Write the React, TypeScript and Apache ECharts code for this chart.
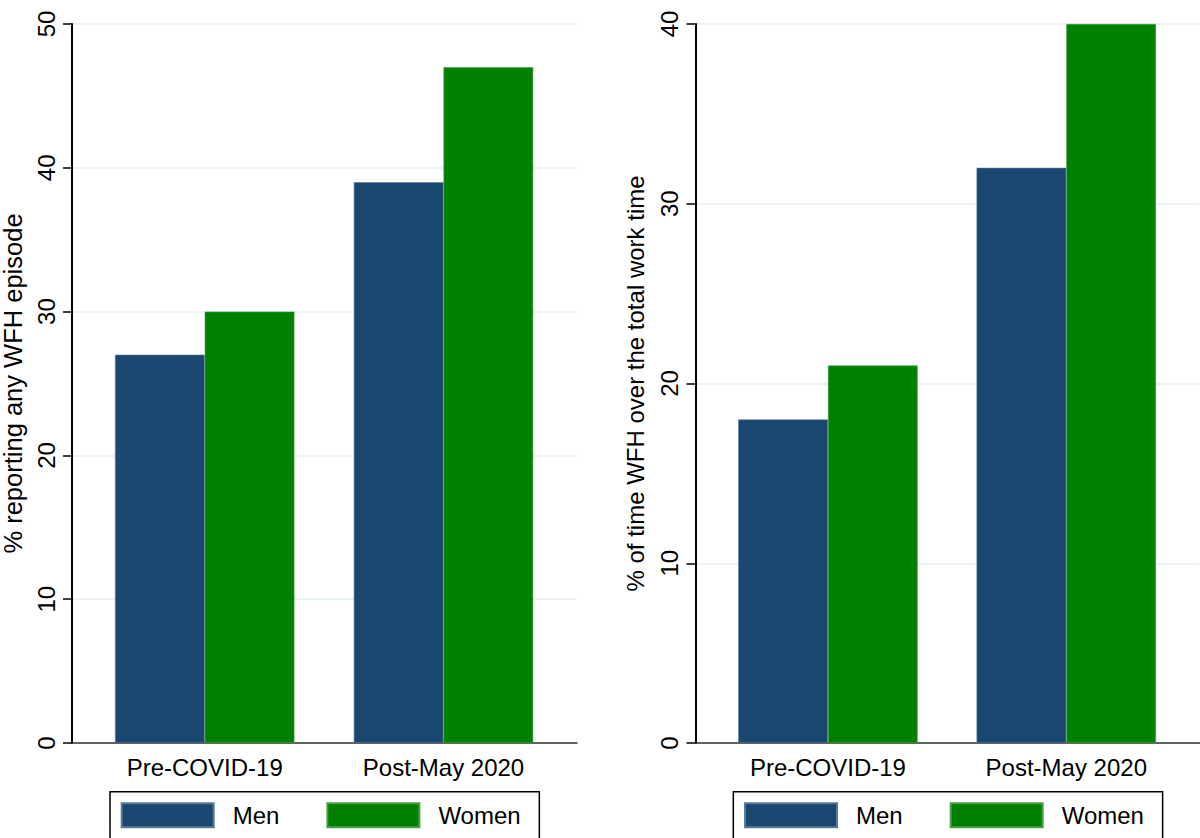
import React, { useEffect, useRef } from 'react';
import * as echarts from 'echarts';

const categories = ['Pre-COVID-19', 'Post-May 2020'];
const seriesNames = ['Men', 'Women'];
const leftMen = [27, 39];
const leftWomen = [30, 47];
const rightMen = [18, 32];
const rightWomen = [21, 40];
const leftTitle = '% reporting any WFH episode';
const rightTitle = '% of time WFH over the total work time';
const leftMax = 50;
const rightMax = 40;
const yInterval = 10;
const colors = ['#1a476f', '#008000'];
const borders = ['#5a7a98', '#4aa04a'];

const FONT = 'Liberation Sans, Arial, Helvetica, sans-serif';

function catLabel(v: number): string {
  const r = Math.round(v);
  if (Math.abs(v - r) < 1e-6 && categories[r] !== undefined) return categories[r];
  return '';
}

function makeX(gridIndex: number) {
  return {
    type: 'value',
    gridIndex,
    min: -0.5557,
    max: 1.559,
    splitLine: { show: false },
    axisTick: { show: false },
    axisLine: { show: true, lineStyle: { color: '#333', width: 1.5 } },
    axisLabel: {
      formatter: catLabel,
      fontSize: 24,
      color: '#000',
      margin: 12,
      fontFamily: FONT,
    },
  };
}

function makeY(gridIndex: number, max: number, name: string, titleSize: number, gap: number) {
  return {
    type: 'value',
    gridIndex,
    min: 0,
    max,
    interval: yInterval,
    name,
    nameLocation: 'middle',
    nameRotate: 90,
    nameGap: gap,
    nameTextStyle: { fontSize: titleSize, color: '#000', fontFamily: FONT },
    axisLine: { show: true, onZero: false, lineStyle: { color: '#000', width: 2 } },
    axisTick: { show: true, length: 9, lineStyle: { color: '#000', width: 1.5 } },
    axisLabel: { rotate: 90, fontSize: 24, margin: 14, color: '#000', fontFamily: FONT },
    splitLine: { show: true, lineStyle: { color: '#eaf2f3', width: 2 } },
  };
}

function makeBar(name: string, values: number[], idx: number, k: number) {
  return {
    type: 'bar',
    name,
    xAxisIndex: idx,
    yAxisIndex: idx,
    data: values.map((v, i) => [i, v]),
    barWidth: 89.7,
    barGap: '0%',
    itemStyle: { color: colors[k], borderColor: borders[k], borderWidth: 0.6 },
  };
}

function makeLegend(left: number) {
  return {
    left,
    top: 791.7,
    orient: 'horizontal',
    icon: 'rect',
    itemWidth: 92,
    itemHeight: 24,
    itemGap: 47,
    padding: [10.5, 18.7, 10.5, 10.7],
    borderColor: '#000',
    borderWidth: 1.5,
    selectedMode: false,
    data: seriesNames,
    textStyle: { fontSize: 24, color: '#000', fontFamily: FONT, padding: [0, 0, 0, 14] },
  };
}

export default function App() {
  const ref = useRef<HTMLDivElement>(null);
  useEffect(() => {
    if (!ref.current) return;
    const chart = echarts.init(ref.current, undefined, { renderer: 'svg' });
    chart.setOption({
      animation: false,
      backgroundColor: '#fff',
      textStyle: { fontFamily: FONT },
      grid: [
        { left: 72, top: 24, width: 505, height: 719, containLabel: false, outerBoundsMode: 'none' },
        { left: 695.5, top: 24, width: 504, height: 719, containLabel: false, outerBoundsMode: 'none' },
      ],
      xAxis: [makeX(0), makeX(1)],
      yAxis: [
        makeY(0, leftMax, leftTitle, 25.5, 46),
        makeY(1, rightMax, rightTitle, 24, 48),
      ],
      legend: [makeLegend(110), makeLegend(733.3)],
      series: [
        makeBar(seriesNames[0], leftMen, 0, 0),
        makeBar(seriesNames[1], leftWomen, 0, 1),
        makeBar(seriesNames[0], rightMen, 1, 0),
        makeBar(seriesNames[1], rightWomen, 1, 1),
      ],
    });
    return () => chart.dispose();
  }, []);
  return (
    <div
      ref={ref}
      style={{ position: 'fixed', left: 0, top: 0, width: 1200, height: 838, background: '#fff' }}
    />
  );
}
